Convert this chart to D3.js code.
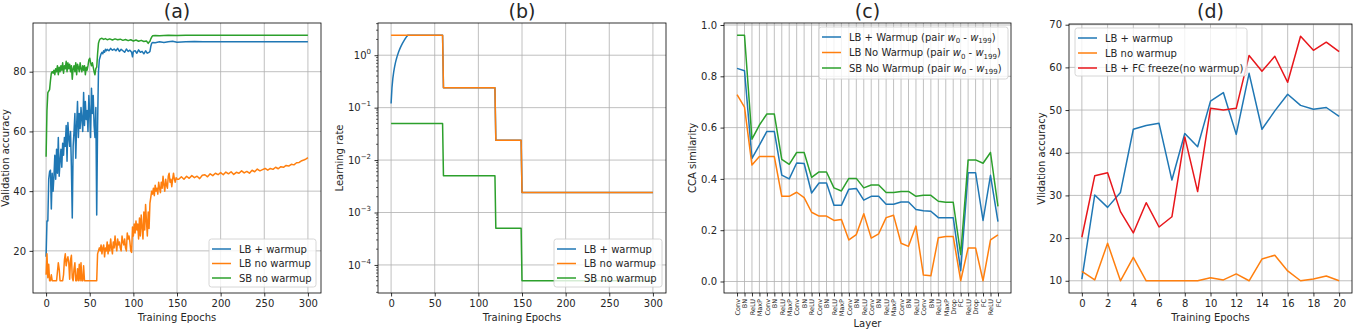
<!DOCTYPE html>
<html>
<head>
<meta charset="utf-8">
<script src="https://cdn.jsdelivr.net/npm/d3@7"></script>
<style>
body { margin: 0; background: #fff; }
svg text { font-family: "DejaVu Sans", sans-serif; fill: #262626; }
</style>
</head>
<body>
<script>

// Figure size
const W = 1359, H = 330;

// Colours (matplotlib defaults)
const blue = "#1f77b4", orange = "#ff7f0e", green = "#2ca02c", red = "#e8161b";

// (a) validation accuracy over 300 epochs, [epoch, accuracy]
const lbWarmupAcc = [[0,18],[1,30],[2,30],[3,44],[4,46.5],[5,47],[6,34],[7,46],[8,40],[9,45],[10,52],[11,44],[12,54],[13,46],[14,58],[15,45],[16,50],[17,54],[18,48],[19,56],[20,52],[21,58],[22,55],[23,62],[24,50],[25,63],[26,58],[27,55],[28,60],[29,48],[30,31],[31,55],[32,60],[33,66],[34,51],[35,62],[36,70],[37,58],[38,66],[39,61],[40,68],[41,64],[42,60],[43,73],[44,62],[45,70],[46,64],[47,67],[48,60],[49,72],[50,66],[51,58],[52,74.5],[53,66],[54,72],[55,62],[56,58],[57,68],[58,32],[59,62],[60,80],[61,84],[62,85],[63,86],[64,86.5],[65,86],[66,87],[67,86.5],[68,87.5],[69,87],[70,87.5],[72,87],[74,87.8],[76,87.2],[78,87.6],[80,87],[82,87.8],[84,86.8],[86,87.5],[88,87],[90,86.5],[92,87.6],[94,86.8],[96,87.2],[98,86.5],[99,85],[100,86.8],[102,87],[104,86.2],[106,87.3],[108,86.5],[110,86.8],[112,86],[114,87],[116,86.2],[118,86.5],[119,86.8],[120,88.5],[121,89.5],[122,89.8],[125,89.7],[130,90],[135,89.8],[140,90],[145,90.2],[150,89.9],[160,90],[170,90.1],[180,90],[300,90]];
const lbNoWarmupAcc = [[0,12],[1,19],[2,11],[3,15.5],[4,10],[5,10],[6,12],[7,10],[8,10],[9,10],[10,10],[11,10],[12,10],[13,13],[14,16],[15,14],[16,10],[17,10],[18,10],[19,10],[20,12],[21,17],[22,19],[23,15],[24,17],[25,18],[26,16],[27,10.5],[28,17],[29,18.5],[30,11],[31,10],[32,14],[33,16],[34,10],[35,10],[36,14],[37,10],[38,15.5],[39,10],[40,16],[41,10],[42,10],[43,15],[44,10],[45,10],[58,10],[59,19],[60,20],[61,21],[62,20],[63,22],[64,19],[65,21],[66,22],[67,18],[68,21],[69,20],[70,23],[71,19],[72,22],[73,20],[74,24],[75,21],[76,19],[77,23],[78,21],[79,25],[80,22],[81,20],[82,24],[83,22],[84,23],[85,21],[86,20],[87,25],[88,23],[89,22],[90,24],[91,21],[92,20],[93,26],[94,24],[95,25],[96,23],[97,20],[98,19.5],[99,28],[100,25],[101,29],[102,26],[103,30],[104,27],[105,29],[106,24],[107,31],[108,25],[109,32],[110,28],[111,24],[112,33],[113,27],[114,35.5],[115,30],[116,25],[117,33],[118,27.5],[119,36],[120,38],[121,40],[122,39],[123,41],[124,38.5],[125,42],[126,40],[127,41],[128,39],[129,43],[130,41],[131,39.5],[132,43],[133,41],[134,45],[135,42],[136,40],[137,44],[138,42],[139,41],[140,45],[141,46],[142,43],[143,44],[144,41.5],[145,44],[146,46],[147,44],[148,43],[149,44.5],[150,44],[152,44],[155,44.8],[158,44],[161,45],[164,44.3],[167,45.2],[170,44.5],[173,45],[176,44.2],[179,45.3],[182,45.5],[185,44.8],[188,45.8],[191,45.2],[194,46],[197,45.5],[200,46.2],[203,45.5],[206,46.4],[209,45.8],[212,46.5],[215,45.6],[218,46.3],[221,46],[224,46.8],[227,46.1],[230,46.6],[233,46],[236,47],[239,46.5],[242,47.4],[245,46.8],[248,47.2],[251,47.6],[254,47],[257,47.6],[260,47.3],[263,48],[266,47.5],[269,48.2],[272,48],[275,48.6],[278,48.4],[281,49],[284,48.8],[287,49.5],[290,49.6],[293,50.2],[296,50.5],[298,50.8],[300,51.2]];
const sbNoWarmupAcc = [[0,51.5],[1,67],[2,73],[3,73.5],[4,74],[5,77],[6,79.5],[7,80],[8,79.5],[9,80.5],[10,79],[11,81],[12,80],[13,82],[14,79],[15,81.5],[16,80],[17,82],[18,80.5],[19,83],[20,79.5],[21,82],[22,81],[23,83.5],[24,80],[25,83],[26,81],[27,82.5],[28,80],[29,82],[30,77.5],[31,81],[32,82],[33,80],[34,83],[35,79],[36,82.5],[37,81.5],[38,80],[39,83],[40,81],[41,80],[42,82],[43,80.5],[44,82],[45,79],[46,81.5],[47,80.5],[48,82],[49,84],[50,84.5],[51,83],[52,82],[53,83],[54,81.5],[55,80],[56,79],[57,81],[58,81.5],[59,86],[60,89.5],[61,90.5],[62,91],[64,91.2],[66,90.8],[68,91.1],[70,90.7],[73,91],[76,90.6],[79,91],[82,90.7],[85,90.9],[88,90.5],[91,90.8],[94,90.4],[97,90.7],[100,90.3],[103,90.6],[106,90.2],[109,90.5],[112,90.1],[115,90.3],[117,89.5],[118,89.9],[119,90.2],[120,91],[121,91.6],[122,92],[125,92.1],[130,92],[140,92.2],[150,92.1],[160,92.2],[300,92.2]];
const seriesNamesAB = ["LB + warmup", "LB no warmup", "SB no warmup"];

// (b) learning rate schedules, [epoch, lr]
const lbWarmupLr = [[0,0.12],[1,0.24],[2,0.36],[3,0.48],[4,0.6],[5,0.72],[6,0.84],[7,0.96],[8,1.08],[9,1.2],[10,1.32],[11,1.44],[12,1.56],[13,1.68],[14,1.8],[15,1.92],[16,2.04],[17,2.16],[18,2.28],[19,2.4],[59,2.4],[60,0.24],[119,0.24],[120,0.024],[149,0.024],[150,0.0024],[300,0.0024]];
const lbNoWarmupLr = [[0,2.4],[59,2.4],[60,0.24],[119,0.24],[120,0.024],[149,0.024],[150,0.0024],[300,0.0024]];
const sbNoWarmupLr = [[0,0.05],[59,0.05],[60,0.005],[119,0.005],[120,0.0005],[149,0.0005],[150,0.00005],[300,0.00005]];

// (c) CCA similarity per layer
const layers = ["Conv","BN","ReLU","MaxP","Conv","BN","ReLU","MaxP","Conv","BN","ReLU","Conv","BN","ReLU","MaxP","Conv","BN","ReLU","Conv","BN","ReLU","MaxP","Conv","BN","ReLU","Conv","BN","ReLU","MaxP","Drop","FC","ReLU","Drop","FC","ReLU","FC"];
const ccaLbWarmup = [0.831,0.822,0.48,0.532,0.585,0.585,0.415,0.40,0.462,0.46,0.345,0.384,0.384,0.297,0.297,0.36,0.363,0.317,0.332,0.332,0.301,0.301,0.31,0.31,0.281,0.276,0.274,0.249,0.249,0.249,0.042,0.424,0.424,0.238,0.414,0.233];
const ccaLbNoWarmup = [0.729,0.68,0.454,0.487,0.487,0.487,0.332,0.332,0.348,0.327,0.27,0.255,0.255,0.238,0.242,0.162,0.183,0.264,0.169,0.186,0.249,0.258,0.149,0.137,0.216,0.025,0.022,0.171,0.175,0.175,0.003,0.131,0.131,0.003,0.162,0.182];
const ccaSbNoWarmup = [0.96,0.96,0.555,0.61,0.653,0.653,0.476,0.457,0.503,0.503,0.406,0.427,0.427,0.365,0.353,0.402,0.402,0.365,0.376,0.376,0.347,0.347,0.351,0.351,0.332,0.336,0.336,0.313,0.309,0.309,0.105,0.474,0.474,0.461,0.503,0.293];
const seriesNamesC = ["LB + Warmup", "LB No Warmup", "SB No Warmup"];

// (d) validation accuracy over 20 epochs
const epochsD = [0,1,2,3,4,5,6,7,8,9,10,11,12,13,14,15,16,17,18,19,20];
const accLbWarmup = [10.4,30.1,27.2,30.7,45.5,46.4,46.9,33.6,44.5,41.4,52.1,54.1,44.3,58.6,45.5,49.8,53.7,51.1,50.2,50.6,48.5];
const accLbNoWarmup = [12.2,10.2,18.8,10.0,15.5,10.0,10.0,10.0,10.0,10.0,10.7,10.2,11.6,10.0,15.1,16.0,12.3,10.0,10.4,11.1,10.0];
const accLbFcFreeze = [20.2,34.6,35.3,26.2,21.2,28.3,22.6,25.0,43.7,30.9,50.4,50.0,50.4,62.8,59.1,62.6,56.5,67.3,64.0,65.9,63.7];
const seriesNamesD = ["LB + warmup", "LB no warmup", "LB + FC freeze(no warmup)"];

// Axes boxes in pixels
const boxA = {left: 33, right: 321, top: 23, bottom: 293};
const boxB = {left: 378, right: 666, top: 23, bottom: 293};
const boxC = {left: 724, right: 1011, top: 23, bottom: 293};
const boxD = {left: 1069, right: 1352, top: 24, bottom: 293};

const svg = d3.select("body").append("svg")
    .attr("width", W).attr("height", H);

/**
 * Pad an extent by 5% on each side like matplotlib autoscale
 */
function pad(ext, frac=0.05) {
    const d = (ext[1] - ext[0]) * frac;
    return [ext[0] - d, ext[1] + d];
}

/**
 * Draw grid, ticks, frame and labels; return the group for data lines
 */
function makeAxes(box, x, y, o) {
    const g = svg.append("g");

    // Grid
    g.append("g").selectAll("line").data(o.xTicks).join("line")
        .attr("x1", d => x(d)).attr("x2", d => x(d))
        .attr("y1", box.top).attr("y2", box.bottom)
        .attr("stroke", "#b0b0b0").attr("stroke-width", 0.8);
    g.append("g").selectAll("line").data(o.yTicks).join("line")
        .attr("x1", box.left).attr("x2", box.right)
        .attr("y1", d => y(d)).attr("y2", d => y(d))
        .attr("stroke", "#b0b0b0").attr("stroke-width", 0.8);

    const plot = g.append("g");

    // Axes
    const ax = g.append("g")
        .attr("transform", `translate(0, ${box.bottom})`)
        .call(d3.axisBottom(x).tickValues(o.xTicks).tickFormat(o.xFormat)
            .tickSize(3.5).tickPadding(3.5));
    ax.select(".domain").remove();
    const ay = g.append("g")
        .attr("transform", `translate(${box.left}, 0)`)
        .call(d3.axisLeft(y).tickValues(o.yTicks).tickFormat(o.yFormat || "")
            .tickSize(3.5).tickPadding(3.5));
    ay.select(".domain").remove();
    g.selectAll(".tick text")
        .attr("font-family", "DejaVu Sans").attr("font-size", 10).attr("fill", "#262626");
    g.selectAll(".tick line").attr("stroke", "#000").attr("stroke-width", 0.8);

    // Frame
    g.append("rect")
        .attr("x", box.left).attr("y", box.top)
        .attr("width", box.right - box.left).attr("height", box.bottom - box.top)
        .attr("fill", "none").attr("stroke", "#000").attr("stroke-width", 0.8);

    // Title and axis labels
    const cx = (box.left + box.right) / 2, cy = (box.top + box.bottom) / 2;
    g.append("text").attr("x", cx).attr("y", 18)
        .attr("text-anchor", "middle").attr("font-size", 19).text(o.title);
    g.append("text").attr("x", cx).attr("y", o.xLabelY || 321)
        .attr("text-anchor", "middle").attr("font-size", 10).text(o.xLabel);
    g.append("text")
        .attr("transform", `translate(${o.yLabelX}, ${cy}) rotate(-90)`)
        .attr("text-anchor", "middle").attr("font-size", 10).text(o.yLabel);

    return {g, ax, ay, plot};
}

/**
 * Draw a line series
 */
function drawLine(plot, data, x, y, colour) {
    plot.append("path")
        .datum(data)
        .attr("fill", "none")
        .attr("stroke", colour)
        .attr("stroke-width", 1.5)
        .attr("stroke-linejoin", "round")
        .attr("d", d3.line().x(d => x(d[0])).y(d => y(d[1])));
}

/**
 * Matplotlib-style legend box
 */
function legend(box, names, colours, rowH, labelFn) {
    const g = svg.append("g");
    g.append("rect")
        .attr("x", box.x).attr("y", box.y).attr("width", box.w).attr("height", box.h)
        .attr("rx", 2.5).attr("fill", "#fff").attr("fill-opacity", 0.8)
        .attr("stroke", "#cccccc").attr("stroke-width", 0.8);
    names.forEach((n, i) => {
        const yy = box.y + 10 + i * rowH;
        g.append("line")
            .attr("x1", box.x + 3).attr("x2", box.x + 22)
            .attr("y1", yy).attr("y2", yy)
            .attr("stroke", colours[i]).attr("stroke-width", 1.5);
        const t = g.append("text")
            .attr("x", box.x + 30).attr("y", yy + 3.6)
            .attr("font-size", 10);
        if (labelFn) labelFn(t, n); else t.text(n);
    });
}

// ---------- (a) ----------
const allA = lbWarmupAcc.concat(lbNoWarmupAcc, sbNoWarmupAcc);
const xA = d3.scaleLinear().domain(pad([0, 300])).range([boxA.left, boxA.right]);
const yA = d3.scaleLinear().domain(pad(d3.extent(allA, d => d[1]))).range([boxA.bottom, boxA.top]);
const pA = makeAxes(boxA, xA, yA, {
    xTicks: [0, 50, 100, 150, 200, 250, 300], xFormat: d3.format("d"),
    yTicks: [20, 40, 60, 80], yFormat: d3.format("d"),
    title: "(a)", xLabel: "Training Epochs", yLabel: "Validation accuracy", yLabelX: 9
});
drawLine(pA.plot, lbWarmupAcc, xA, yA, blue);
drawLine(pA.plot, lbNoWarmupAcc, xA, yA, orange);
drawLine(pA.plot, sbNoWarmupAcc, xA, yA, green);
legend({x: 209, y: 239, w: 107, h: 48}, seriesNamesAB, [blue, orange, green], 14.5);

// ---------- (b) ----------
const allB = lbWarmupLr.concat(lbNoWarmupLr, sbNoWarmupLr);
const logExt = pad(d3.extent(allB, d => Math.log10(d[1])));
const xB = d3.scaleLinear().domain(pad([0, 300])).range([boxB.left, boxB.right]);
const yB = d3.scaleLog().domain([Math.pow(10, logExt[0]), Math.pow(10, logExt[1])]).range([boxB.bottom, boxB.top]);
const decades = [1e-4, 1e-3, 1e-2, 1e-1, 1];
const pB = makeAxes(boxB, xB, yB, {
    xTicks: [0, 50, 100, 150, 200, 250, 300], xFormat: d3.format("d"),
    yTicks: decades, yFormat: () => "",
    title: "(b)", xLabel: "Training Epochs", yLabel: "Learning rate", yLabelX: 343
});
// Superscript tick labels
pB.ay.selectAll(".tick text").each(function(d) {
    const p = Math.round(Math.log10(d));
    const t = d3.select(this).text("");
    t.append("tspan").text("10");
    t.append("tspan").attr("dy", -5).attr("font-size", 7)
        .text(p === 0 ? "0" : "\u2212" + Math.abs(p));
});
// Minor ticks
const minors = [];
for (let k = -5; k <= 0; k++) for (let m = 2; m <= 9; m++) {
    const v = m * Math.pow(10, k);
    if (v > yB.domain()[0] && v < yB.domain()[1]) minors.push(v);
}
pB.g.append("g").selectAll("line").data(minors).join("line")
    .attr("x1", boxB.left - 2).attr("x2", boxB.left)
    .attr("y1", d => yB(d)).attr("y2", d => yB(d))
    .attr("stroke", "#000").attr("stroke-width", 0.6);
drawLine(pB.plot, lbWarmupLr, xB, yB, blue);
drawLine(pB.plot, lbNoWarmupLr, xB, yB, orange);
drawLine(pB.plot, sbNoWarmupLr, xB, yB, green);
legend({x: 554, y: 239, w: 108, h: 48}, seriesNamesAB, [blue, orange, green], 14.5);

// ---------- (c) ----------
const idxC = layers.map((_, i) => i);
const xC = d3.scaleLinear().domain(pad([0, layers.length - 1])).range([boxC.left, boxC.right]);
const yC = d3.scaleLinear()
    .domain(pad(d3.extent(ccaLbWarmup.concat(ccaLbNoWarmup, ccaSbNoWarmup))))
    .range([boxC.bottom, boxC.top]);
const pC = makeAxes(boxC, xC, yC, {
    xTicks: idxC, xFormat: i => layers[i],
    yTicks: [0, 0.2, 0.4, 0.6, 0.8, 1.0], yFormat: d3.format(".1f"),
    title: "(c)", xLabel: "Layer", xLabelY: 327, yLabel: "CCA similarity", yLabelX: 696
});
pC.ax.selectAll(".tick text")
    .attr("font-size", 6.5)
    .attr("text-anchor", "end")
    .attr("transform", "rotate(-90)")
    .attr("x", -6).attr("y", 0).attr("dy", "0.35em");
drawLine(pC.plot, idxC.map(i => [i, ccaLbWarmup[i]]), xC, yC, blue);
drawLine(pC.plot, idxC.map(i => [i, ccaLbNoWarmup[i]]), xC, yC, orange);
drawLine(pC.plot, idxC.map(i => [i, ccaSbNoWarmup[i]]), xC, yC, green);
legend({x: 819, y: 27, w: 189, h: 52}, seriesNamesC, [blue, orange, green], 15.5, (t, n) => {
    t.append("tspan").text(n + " (pair ");
    t.append("tspan").attr("font-style", "italic").text("w");
    t.append("tspan").attr("font-size", 7).attr("dy", 2.5).text("0");
    t.append("tspan").attr("dy", -2.5).text(" - ");
    t.append("tspan").attr("font-style", "italic").text("w");
    t.append("tspan").attr("font-size", 7).attr("dy", 2.5).text("199");
    t.append("tspan").attr("dy", -2.5).text(")");
});

// ---------- (d) ----------
const xD = d3.scaleLinear().domain(pad([0, 20])).range([boxD.left, boxD.right]);
const yD = d3.scaleLinear()
    .domain(pad(d3.extent(accLbWarmup.concat(accLbNoWarmup, accLbFcFreeze))))
    .range([boxD.bottom, boxD.top]);
const pD = makeAxes(boxD, xD, yD, {
    xTicks: [0, 2, 4, 6, 8, 10, 12, 14, 16, 18, 20], xFormat: d3.format("d"),
    yTicks: [10, 20, 30, 40, 50, 60, 70], yFormat: d3.format("d"),
    title: "(d)", xLabel: "Training Epochs", yLabel: "Vlidation accuracy", yLabelX: 1045
});
drawLine(pD.plot, epochsD.map((e, i) => [e, accLbWarmup[i]]), xD, yD, blue);
drawLine(pD.plot, epochsD.map((e, i) => [e, accLbNoWarmup[i]]), xD, yD, orange);
drawLine(pD.plot, epochsD.map((e, i) => [e, accLbFcFreeze[i]]), xD, yD, red);
legend({x: 1075, y: 28, w: 172, h: 48}, seriesNamesD, [blue, orange, red], 15);

</script>
</body>
</html>
